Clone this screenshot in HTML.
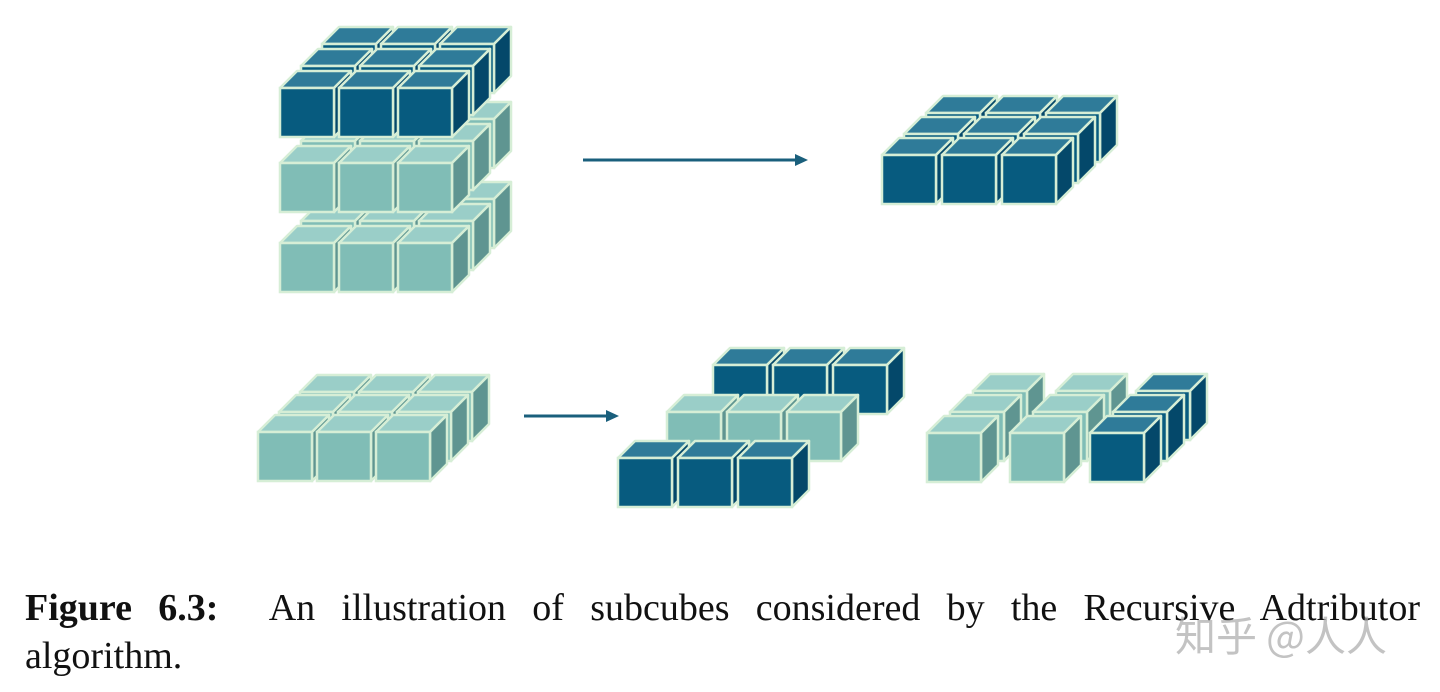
<!DOCTYPE html>
<html><head><meta charset="utf-8"><style>
html,body{margin:0;padding:0;background:#fff;width:1440px;height:692px;overflow:hidden;position:relative}
svg{position:absolute;left:0;top:0}
.cap{position:absolute;left:25px;top:584px;width:1395px;font-family:"Liberation Serif",serif;font-size:38px;line-height:48px;color:#111;text-align:justify;text-align-last:left}
.l1{display:block;text-align:justify;text-align-last:justify;white-space:nowrap;width:1395px}
.wm{position:absolute;left:1175px;top:603px;font-family:"Noto Sans CJK SC","WenQuanYi Zen Hei",sans-serif;font-size:41px;color:rgba(170,170,170,0.7)}
</style></head><body>
<svg id="s" width="1440" height="692" xmlns="http://www.w3.org/2000/svg"></svg>
<div class="cap"><span class="l1"><b>Figure 6.3:</b>&nbsp; An illustration of subcubes considered by the Recursive Adtributor</span>algorithm.</div>
<div class="wm">知乎 @人人</div>
<script>
var s=document.getElementById('s'),out='';
var C={d:['#075b7f','#2f7b99','#04486a'],l:['#80bdb6','#9acec8','#5f9591']};
var W=54,H=49,D=17,ST='#d6eed6';
function cube(x,y,c){var k=C[c];
out+='<polygon points="'+x+','+y+' '+(x+D)+','+(y-D)+' '+(x+W+D)+','+(y-D)+' '+(x+W)+','+y+'" fill="'+k[1]+'" stroke="'+ST+'" stroke-width="2.5" stroke-linejoin="round"/>';
out+='<polygon points="'+(x+W)+','+y+' '+(x+W+D)+','+(y-D)+' '+(x+W+D)+','+(y+H-D)+' '+(x+W)+','+(y+H)+'" fill="'+k[2]+'" stroke="'+ST+'" stroke-width="2.5" stroke-linejoin="round"/>';
out+='<rect x="'+x+'" y="'+y+'" width="'+W+'" height="'+H+'" fill="'+k[0]+'" stroke="'+ST+'" stroke-width="2.5"/>';}
function slab(x,y,c,rdx,rdy,cs){for(var r=2;r>=0;r--)for(var i=0;i<3;i++)cube(x+r*rdx+i*cs,y+r*rdy,c);}
slab(280,243,'l',21,-22,59);
slab(280,163,'l',21,-22,59);
slab(280,88,'d',21,-22,59);
slab(882,155,'d',22,-21,60);
slab(258,432,'l',21,-20,59);
for(var i=0;i<3;i++)cube(713+i*60,365,'d');
for(var i=0;i<3;i++)cube(667+i*60,412,'l');
for(var i=0;i<3;i++)cube(618+i*60,458,'d');
for(var r=2;r>=0;r--){cube(927+r*23,433-r*21,'l');cube(1010+r*23,433-r*21,'l');cube(1090+r*23,433-r*21,'d');}
out+='<line x1="583" y1="160" x2="798" y2="160" stroke="#1a5f7c" stroke-width="3"/><polygon points="808,160 795,154 795,166" fill="#1a5f7c"/>';
out+='<line x1="524" y1="416" x2="608" y2="416" stroke="#1a5f7c" stroke-width="3"/><polygon points="619,416 606,410 606,422" fill="#1a5f7c"/>';
s.innerHTML=out;
</script>
</body></html>
